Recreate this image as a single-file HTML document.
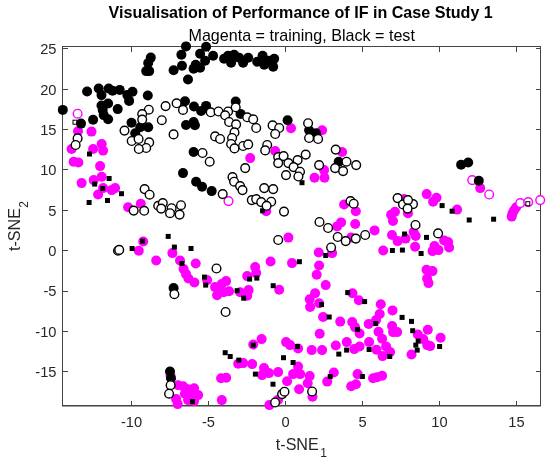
<!DOCTYPE html>
<html><head><meta charset="utf-8"><title>Visualisation of Performance of IF in Case Study 1</title>
<style>html,body{margin:0;padding:0;background:#fff}svg{display:block}</style></head>
<body><svg width="550" height="464" viewBox="0 0 550 464">
<rect width="550" height="464" fill="#fff"/>
<g stroke="#444" stroke-width="1" fill="none" shape-rendering="crispEdges">
<rect x="62.5" y="46.5" width="478.0" height="359.0"/>
<path d="M131.5 405.5v-5M131.5 46.5v5"/>
<path d="M208.5 405.5v-5M208.5 46.5v5"/>
<path d="M285.5 405.5v-5M285.5 46.5v5"/>
<path d="M362.5 405.5v-5M362.5 46.5v5"/>
<path d="M439.5 405.5v-5M439.5 46.5v5"/>
<path d="M516.5 405.5v-5M516.5 46.5v5"/>
<path d="M62.5 48.5h5M540.5 48.5h-5"/>
<path d="M62.5 89.5h5M540.5 89.5h-5"/>
<path d="M62.5 129.5h5M540.5 129.5h-5"/>
<path d="M62.5 169.5h5M540.5 169.5h-5"/>
<path d="M62.5 210.5h5M540.5 210.5h-5"/>
<path d="M62.5 250.5h5M540.5 250.5h-5"/>
<path d="M62.5 291.5h5M540.5 291.5h-5"/>
<path d="M62.5 331.5h5M540.5 331.5h-5"/>
<path d="M62.5 371.5h5M540.5 371.5h-5"/>
</g>
<path d="M62.0 405.9H541.0" stroke="#444" stroke-width="1.2" fill="none"/>
<g fill="#ff00ff"><circle cx="78" cy="131.2" r="5"/><circle cx="91.5" cy="131.6" r="5"/><circle cx="291" cy="128.2" r="5"/><circle cx="322.1" cy="130.2" r="5"/><circle cx="71.6" cy="149" r="5"/><circle cx="93.1" cy="149" r="5"/><circle cx="101.7" cy="144" r="5"/><circle cx="103.1" cy="150.6" r="5"/><circle cx="73.6" cy="161.7" r="5"/><circle cx="78.4" cy="162.5" r="5"/><circle cx="100.1" cy="166.1" r="5"/><circle cx="101.7" cy="176.7" r="5"/><circle cx="93.7" cy="180.1" r="5"/><circle cx="81.6" cy="183.1" r="5"/><circle cx="103.1" cy="188.1" r="5"/><circle cx="98.1" cy="194.5" r="5"/><circle cx="111.7" cy="190.1" r="5"/><circle cx="115.1" cy="188.1" r="5"/><circle cx="128.1" cy="207.2" r="5"/><circle cx="140.8" cy="203.7" r="5"/><circle cx="250.2" cy="158.1" r="5"/><circle cx="275.2" cy="151" r="5"/><circle cx="266.2" cy="211.2" r="5"/><circle cx="342.1" cy="152" r="5"/><circle cx="324.1" cy="170.1" r="5"/><circle cx="314.5" cy="177.7" r="5"/><circle cx="324.5" cy="177.7" r="5"/><circle cx="344.1" cy="204.5" r="5"/><circle cx="355.8" cy="211.2" r="5"/><circle cx="480.2" cy="188.1" r="5"/><circle cx="426.7" cy="194.1" r="5"/><circle cx="436.5" cy="197.7" r="5"/><circle cx="433.1" cy="201.7" r="5"/><circle cx="457.1" cy="209.6" r="5"/><circle cx="404" cy="199.1" r="5"/><circle cx="408" cy="213.2" r="5"/><circle cx="395" cy="211.8" r="5"/><circle cx="516.2" cy="207.2" r="5"/><circle cx="514.1" cy="210.2" r="5"/><circle cx="512.5" cy="213.2" r="5"/><circle cx="511.7" cy="216.6" r="5"/><circle cx="143.2" cy="241.5" r="5"/><circle cx="138.8" cy="250.7" r="5"/><circle cx="156.2" cy="260.5" r="5"/><circle cx="172.4" cy="253.1" r="5"/><circle cx="180" cy="260.5" r="5"/><circle cx="195.7" cy="263.5" r="5"/><circle cx="183.6" cy="269.1" r="5"/><circle cx="186" cy="274.1" r="5"/><circle cx="188.4" cy="278.5" r="5"/><circle cx="194.4" cy="282.5" r="5"/><circle cx="207.1" cy="280.1" r="5"/><circle cx="215.1" cy="287.1" r="5"/><circle cx="221.7" cy="284.1" r="5"/><circle cx="226.1" cy="281.1" r="5"/><circle cx="219.7" cy="290.1" r="5"/><circle cx="217.1" cy="295.2" r="5"/><circle cx="223.7" cy="292.2" r="5"/><circle cx="229.1" cy="291.2" r="5"/><circle cx="240.1" cy="292.2" r="5"/><circle cx="248.6" cy="290.1" r="5"/><circle cx="247.2" cy="295.8" r="5"/><circle cx="247.2" cy="276.1" r="5"/><circle cx="255.2" cy="267.1" r="5"/><circle cx="256.2" cy="273.1" r="5"/><circle cx="270.6" cy="261.5" r="5"/><circle cx="279.2" cy="289.7" r="5"/><circle cx="341.1" cy="222.4" r="5"/><circle cx="337.1" cy="226.4" r="5"/><circle cx="355.2" cy="224" r="5"/><circle cx="374.6" cy="230.4" r="5"/><circle cx="288.4" cy="237.6" r="5"/><circle cx="351.1" cy="237.6" r="5"/><circle cx="383.2" cy="250.5" r="5"/><circle cx="318.7" cy="252.5" r="5"/><circle cx="332.1" cy="253.1" r="5"/><circle cx="292" cy="263.1" r="5"/><circle cx="319.1" cy="265.5" r="5"/><circle cx="316.7" cy="274.7" r="5"/><circle cx="325.7" cy="285.1" r="5"/><circle cx="315.1" cy="293.2" r="5"/><circle cx="309.7" cy="299.2" r="5"/><circle cx="319.1" cy="303.2" r="5"/><circle cx="352.5" cy="293.2" r="5"/><circle cx="358.8" cy="300.2" r="5"/><circle cx="380.8" cy="304.2" r="5"/><circle cx="393" cy="221" r="5"/><circle cx="392" cy="235" r="5"/><circle cx="397.6" cy="241.1" r="5"/><circle cx="405.6" cy="238.6" r="5"/><circle cx="413.6" cy="232" r="5"/><circle cx="415.7" cy="236" r="5"/><circle cx="415.1" cy="246.7" r="5"/><circle cx="434.5" cy="246.1" r="5"/><circle cx="432.5" cy="251.1" r="5"/><circle cx="438.5" cy="250.1" r="5"/><circle cx="444.1" cy="240.4" r="5"/><circle cx="448.1" cy="242.1" r="5"/><circle cx="449.1" cy="247.5" r="5"/><circle cx="426.5" cy="269.7" r="5"/><circle cx="432.5" cy="271.1" r="5"/><circle cx="427.1" cy="278.5" r="5"/><circle cx="428.5" cy="283.1" r="5"/><circle cx="253.2" cy="344.5" r="5"/><circle cx="238.2" cy="363.7" r="5"/><circle cx="243.2" cy="363.1" r="5"/><circle cx="252.2" cy="364.1" r="5"/><circle cx="221.1" cy="378.2" r="5"/><circle cx="226.2" cy="377.8" r="5"/><circle cx="178.1" cy="385.2" r="5"/><circle cx="183.1" cy="386.2" r="5"/><circle cx="188.1" cy="389.2" r="5"/><circle cx="194.1" cy="388.2" r="5"/><circle cx="221.8" cy="400.1" r="5"/><circle cx="184.9" cy="393.7" r="5"/><circle cx="193.1" cy="394.1" r="5"/><circle cx="198.1" cy="395.1" r="5"/><circle cx="176.1" cy="399.1" r="5"/><circle cx="177.7" cy="404.1" r="5"/><circle cx="188.1" cy="400.1" r="5"/><circle cx="194.1" cy="401.1" r="5"/><circle cx="310.1" cy="307" r="5"/><circle cx="323.1" cy="317" r="5"/><circle cx="340.2" cy="321.6" r="5"/><circle cx="352.2" cy="322" r="5"/><circle cx="319.7" cy="333.7" r="5"/><circle cx="261.6" cy="339.1" r="5"/><circle cx="286.1" cy="342.1" r="5"/><circle cx="290.1" cy="345.1" r="5"/><circle cx="298.1" cy="348.5" r="5"/><circle cx="311.7" cy="350.1" r="5"/><circle cx="322.1" cy="350.1" r="5"/><circle cx="335.8" cy="345.5" r="5"/><circle cx="346.8" cy="342.1" r="5"/><circle cx="354.2" cy="349.1" r="5"/><circle cx="264" cy="368.1" r="5"/><circle cx="262" cy="375.1" r="5"/><circle cx="269" cy="373.1" r="5"/><circle cx="278.1" cy="372.1" r="5"/><circle cx="298.1" cy="366.5" r="5"/><circle cx="293.1" cy="374.1" r="5"/><circle cx="300.1" cy="374.1" r="5"/><circle cx="287.1" cy="381.2" r="5"/><circle cx="309.7" cy="376.1" r="5"/><circle cx="307.7" cy="383.2" r="5"/><circle cx="299.1" cy="389.2" r="5"/><circle cx="333.8" cy="372.5" r="5"/><circle cx="327.2" cy="381.6" r="5"/><circle cx="351.2" cy="386.2" r="5"/><circle cx="269.4" cy="405.1" r="5"/><circle cx="278.1" cy="399.7" r="5"/><circle cx="312.5" cy="396.7" r="5"/><circle cx="392.5" cy="310.4" r="5"/><circle cx="379.7" cy="314" r="5"/><circle cx="376.1" cy="320" r="5"/><circle cx="355" cy="327.1" r="5"/><circle cx="368.7" cy="324" r="5"/><circle cx="392.1" cy="326" r="5"/><circle cx="393.1" cy="332.1" r="5"/><circle cx="397.1" cy="332.1" r="5"/><circle cx="378.5" cy="331.7" r="5"/><circle cx="359.6" cy="333.5" r="5"/><circle cx="427.8" cy="329.7" r="5"/><circle cx="417.8" cy="334.5" r="5"/><circle cx="423.2" cy="339.1" r="5"/><circle cx="440.6" cy="337.7" r="5"/><circle cx="427.2" cy="345.1" r="5"/><circle cx="430.2" cy="346.1" r="5"/><circle cx="382.1" cy="338.7" r="5"/><circle cx="369.1" cy="342.1" r="5"/><circle cx="386.1" cy="346.5" r="5"/><circle cx="359.6" cy="346.5" r="5"/><circle cx="376.5" cy="349.7" r="5"/><circle cx="390.1" cy="352.1" r="5"/><circle cx="382.5" cy="356.1" r="5"/><circle cx="411.5" cy="354.5" r="5"/><circle cx="357.6" cy="374.1" r="5"/><circle cx="373.1" cy="378.2" r="5"/><circle cx="377.1" cy="377.2" r="5"/><circle cx="382.1" cy="375.7" r="5"/><circle cx="356" cy="384.2" r="5"/><circle cx="170.5" cy="375.5" r="5"/><circle cx="391.1" cy="214.7" r="5"/></g>
<g fill="#fff" stroke="#ff00ff" stroke-width="1.4"><circle cx="77.6" cy="113.7" r="4.35"/><circle cx="228.5" cy="201.1" r="4.35"/><circle cx="472.2" cy="180.1" r="4.35"/><circle cx="489.2" cy="194.5" r="4.35"/><circle cx="520.2" cy="203.1" r="4.35"/><circle cx="528.2" cy="202.1" r="4.35"/><circle cx="540.2" cy="200.1" r="4.35"/></g>
<g fill="#000"><rect x="87" y="151.5" width="5" height="5"/><rect x="106.6" y="176" width="5" height="5"/><rect x="92.2" y="181.6" width="5" height="5"/><rect x="100.2" y="186" width="5" height="5"/><rect x="119" y="191.2" width="5" height="5"/><rect x="105" y="198" width="5" height="5"/><rect x="86.6" y="200" width="5" height="5"/><rect x="260.1" y="208.3" width="5" height="5"/><rect x="299.5" y="180.2" width="5" height="5"/><rect x="439.6" y="203.1" width="5" height="5"/><rect x="449.6" y="208.7" width="5" height="5"/><rect x="491.1" y="216.7" width="5" height="5"/><rect x="129.6" y="246" width="5" height="5"/><rect x="140.1" y="238.6" width="5" height="5"/><rect x="165.7" y="233.9" width="5" height="5"/><rect x="171.9" y="244.6" width="5" height="5"/><rect x="188.5" y="246" width="5" height="5"/><rect x="179.5" y="261" width="5" height="5"/><rect x="202" y="274.6" width="5" height="5"/><rect x="203.2" y="282.6" width="5" height="5"/><rect x="234.6" y="288.2" width="5" height="5"/><rect x="241.2" y="295.7" width="5" height="5"/><rect x="247.1" y="276.6" width="5" height="5"/><rect x="254.3" y="275.6" width="5" height="5"/><rect x="270.7" y="283.2" width="5" height="5"/><rect x="296.9" y="259.2" width="5" height="5"/><rect x="323.2" y="253" width="5" height="5"/><rect x="345.2" y="290.1" width="5" height="5"/><rect x="362.1" y="299.1" width="5" height="5"/><rect x="319" y="302.1" width="5" height="5"/><rect x="466.7" y="217.5" width="5" height="5"/><rect x="402.1" y="231.5" width="5" height="5"/><rect x="424" y="234.9" width="5" height="5"/><rect x="389.9" y="248" width="5" height="5"/><rect x="399.9" y="247.6" width="5" height="5"/><rect x="418.6" y="251" width="5" height="5"/><rect x="222.7" y="350.2" width="5" height="5"/><rect x="227.7" y="354" width="5" height="5"/><rect x="236.3" y="357.6" width="5" height="5"/><rect x="250.7" y="342.6" width="5" height="5"/><rect x="190" y="399.2" width="5" height="5"/><rect x="326.7" y="314.5" width="5" height="5"/><rect x="295" y="344" width="5" height="5"/><rect x="281" y="355.2" width="5" height="5"/><rect x="290.6" y="360" width="5" height="5"/><rect x="344.1" y="347.6" width="5" height="5"/><rect x="336.3" y="351.6" width="5" height="5"/><rect x="252.9" y="371.6" width="5" height="5"/><rect x="270.5" y="381.7" width="5" height="5"/><rect x="327.7" y="374" width="5" height="5"/><rect x="399.6" y="314.9" width="5" height="5"/><rect x="409" y="318.9" width="5" height="5"/><rect x="373.2" y="321.1" width="5" height="5"/><rect x="355.1" y="327" width="5" height="5"/><rect x="410.2" y="328.2" width="5" height="5"/><rect x="415.7" y="338.6" width="5" height="5"/><rect x="413.3" y="342.6" width="5" height="5"/><rect x="414.7" y="347.6" width="5" height="5"/><rect x="437.1" y="344" width="5" height="5"/><rect x="366.6" y="347" width="5" height="5"/><rect x="387.2" y="354" width="5" height="5"/><rect x="359.9" y="374" width="5" height="5"/></g>
<g fill="#fff" stroke="#000" stroke-width="1"><rect x="73" y="120.2" width="4" height="4"/><rect x="525.8" y="201.7" width="4" height="4"/></g>
<g fill="#000"><circle cx="62.8" cy="109.9" r="5"/><circle cx="87.1" cy="91.5" r="5"/><circle cx="98.7" cy="88.5" r="5"/><circle cx="101.5" cy="95.1" r="5"/><circle cx="108.7" cy="88.5" r="5"/><circle cx="112.5" cy="90.7" r="5"/><circle cx="119.7" cy="89.9" r="5"/><circle cx="127.3" cy="95.1" r="5"/><circle cx="132.5" cy="91.7" r="5"/><circle cx="129.1" cy="100.9" r="5"/><circle cx="147.8" cy="95.5" r="5"/><circle cx="150.8" cy="57.6" r="5"/><circle cx="148.2" cy="63" r="5"/><circle cx="146.2" cy="71.1" r="5"/><circle cx="149.2" cy="71.1" r="5"/><circle cx="108.1" cy="103.5" r="5"/><circle cx="101.5" cy="105.5" r="5"/><circle cx="102.7" cy="110.1" r="5"/><circle cx="117.7" cy="109.1" r="5"/><circle cx="103.7" cy="115.1" r="5"/><circle cx="108.1" cy="119.2" r="5"/><circle cx="93.1" cy="119.8" r="5"/><circle cx="81" cy="123.6" r="5"/><circle cx="131.5" cy="122.8" r="5"/><circle cx="140.2" cy="127.2" r="5"/><circle cx="148.2" cy="127.2" r="5"/><circle cx="135.2" cy="133.2" r="5"/><circle cx="186" cy="46.4" r="5"/><circle cx="206.1" cy="46.8" r="5"/><circle cx="181.4" cy="54.8" r="5"/><circle cx="200.1" cy="53.8" r="5"/><circle cx="213.1" cy="55.8" r="5"/><circle cx="205.1" cy="60.8" r="5"/><circle cx="182" cy="65.8" r="5"/><circle cx="173.6" cy="70.3" r="5"/><circle cx="195.7" cy="64.8" r="5"/><circle cx="200.1" cy="67.8" r="5"/><circle cx="193.6" cy="68.8" r="5"/><circle cx="188" cy="79.5" r="5"/><circle cx="224.1" cy="58.8" r="5"/><circle cx="228.1" cy="55.8" r="5"/><circle cx="234.1" cy="54.8" r="5"/><circle cx="231.1" cy="62.8" r="5"/><circle cx="239.1" cy="57.8" r="5"/><circle cx="243.1" cy="62.8" r="5"/><circle cx="248.2" cy="57.8" r="5"/><circle cx="257.2" cy="61.8" r="5"/><circle cx="262.6" cy="55.8" r="5"/><circle cx="264.2" cy="64.8" r="5"/><circle cx="274.2" cy="58.8" r="5"/><circle cx="273.2" cy="66.8" r="5"/><circle cx="268.2" cy="60.8" r="5"/><circle cx="185" cy="101.3" r="5"/><circle cx="194" cy="106.5" r="5"/><circle cx="206.1" cy="105.9" r="5"/><circle cx="201.1" cy="110.9" r="5"/><circle cx="235.7" cy="101.5" r="5"/><circle cx="240.5" cy="113.9" r="5"/><circle cx="186" cy="125" r="5"/><circle cx="193.6" cy="122" r="5"/><circle cx="287.6" cy="120.2" r="5"/><circle cx="309.1" cy="130.2" r="5"/><circle cx="316.1" cy="133.2" r="5"/><circle cx="193.6" cy="152" r="5"/><circle cx="183" cy="173.1" r="5"/><circle cx="196.1" cy="181.7" r="5"/><circle cx="202.1" cy="186.7" r="5"/><circle cx="211.7" cy="191.1" r="5"/><circle cx="338.7" cy="161.7" r="5"/><circle cx="461.1" cy="164.7" r="5"/><circle cx="468.2" cy="162.5" r="5"/><circle cx="478.8" cy="180.7" r="5"/><circle cx="173.6" cy="288.1" r="5"/><circle cx="170" cy="371.5" r="5"/><circle cx="171" cy="378.2" r="5"/><circle cx="194.9" cy="125.2" r="5"/></g>
<g fill="#fff" stroke="#000" stroke-width="1.4"><circle cx="148.8" cy="109.7" r="4.35"/><circle cx="142.2" cy="114.1" r="4.35"/><circle cx="142.2" cy="119.6" r="4.35"/><circle cx="165.6" cy="106.1" r="4.35"/><circle cx="161.8" cy="120.2" r="4.35"/><circle cx="124.5" cy="130.6" r="4.35"/><circle cx="176.6" cy="103.3" r="4.35"/><circle cx="183" cy="109.9" r="4.35"/><circle cx="210.7" cy="112.3" r="4.35"/><circle cx="218.5" cy="111.5" r="4.35"/><circle cx="228.1" cy="111.5" r="4.35"/><circle cx="225.1" cy="115.3" r="4.35"/><circle cx="235.7" cy="107.3" r="4.35"/><circle cx="229.1" cy="122" r="4.35"/><circle cx="236.1" cy="124.4" r="4.35"/><circle cx="234.5" cy="132.4" r="4.35"/><circle cx="247.2" cy="117.3" r="4.35"/><circle cx="253.2" cy="119.3" r="4.35"/><circle cx="256.2" cy="128" r="4.35"/><circle cx="272.6" cy="125.4" r="4.35"/><circle cx="279.2" cy="128" r="4.35"/><circle cx="275.2" cy="134" r="4.35"/><circle cx="308.1" cy="123.2" r="4.35"/><circle cx="77.6" cy="138.4" r="4.35"/><circle cx="75.6" cy="145" r="4.35"/><circle cx="131.7" cy="141" r="4.35"/><circle cx="138.6" cy="139" r="4.35"/><circle cx="149.2" cy="142.4" r="4.35"/><circle cx="146.2" cy="148" r="4.35"/><circle cx="138.8" cy="149" r="4.35"/><circle cx="144.6" cy="189.1" r="4.35"/><circle cx="149.6" cy="194.7" r="4.35"/><circle cx="133.7" cy="210.6" r="4.35"/><circle cx="144.2" cy="210.8" r="4.35"/><circle cx="158.2" cy="205.8" r="4.35"/><circle cx="162.8" cy="203.1" r="4.35"/><circle cx="161.2" cy="208.6" r="4.35"/><circle cx="173.6" cy="134.4" r="4.35"/><circle cx="215.1" cy="136.4" r="4.35"/><circle cx="220.1" cy="139" r="4.35"/><circle cx="232.1" cy="138" r="4.35"/><circle cx="231.1" cy="144" r="4.35"/><circle cx="234.5" cy="148.4" r="4.35"/><circle cx="243.1" cy="146" r="4.35"/><circle cx="248.2" cy="144.4" r="4.35"/><circle cx="267.2" cy="145" r="4.35"/><circle cx="265.2" cy="150.4" r="4.35"/><circle cx="278.2" cy="157.1" r="4.35"/><circle cx="278.2" cy="163.1" r="4.35"/><circle cx="202.5" cy="153" r="4.35"/><circle cx="209.7" cy="161.7" r="4.35"/><circle cx="245.2" cy="168.1" r="4.35"/><circle cx="232.5" cy="177.1" r="4.35"/><circle cx="234.1" cy="181.7" r="4.35"/><circle cx="240.1" cy="186.1" r="4.35"/><circle cx="242.5" cy="190.1" r="4.35"/><circle cx="264.2" cy="188.1" r="4.35"/><circle cx="273.2" cy="189.1" r="4.35"/><circle cx="222.7" cy="194.1" r="4.35"/><circle cx="251.8" cy="200.1" r="4.35"/><circle cx="256.2" cy="199.1" r="4.35"/><circle cx="261.2" cy="202.1" r="4.35"/><circle cx="271.2" cy="201.7" r="4.35"/><circle cx="266.6" cy="205.8" r="4.35"/><circle cx="181" cy="205.2" r="4.35"/><circle cx="171.6" cy="208.2" r="4.35"/><circle cx="179.6" cy="214.6" r="4.35"/><circle cx="170" cy="213.2" r="4.35"/><circle cx="309.1" cy="138" r="4.35"/><circle cx="318.1" cy="139" r="4.35"/><circle cx="305.7" cy="154.6" r="4.35"/><circle cx="283.6" cy="156.1" r="4.35"/><circle cx="288.4" cy="163.1" r="4.35"/><circle cx="297.6" cy="160.1" r="4.35"/><circle cx="293.6" cy="167.1" r="4.35"/><circle cx="300" cy="171.7" r="4.35"/><circle cx="286" cy="175.1" r="4.35"/><circle cx="298.4" cy="176.5" r="4.35"/><circle cx="319.1" cy="165.1" r="4.35"/><circle cx="335.7" cy="149.6" r="4.35"/><circle cx="346.5" cy="161.7" r="4.35"/><circle cx="356.2" cy="165.1" r="4.35"/><circle cx="335.1" cy="168.1" r="4.35"/><circle cx="343.1" cy="171.1" r="4.35"/><circle cx="350.5" cy="201.1" r="4.35"/><circle cx="353.7" cy="203.7" r="4.35"/><circle cx="284" cy="211.6" r="4.35"/><circle cx="397.6" cy="198.1" r="4.35"/><circle cx="403" cy="204.5" r="4.35"/><circle cx="413" cy="204.1" r="4.35"/><circle cx="408" cy="200.1" r="4.35"/><circle cx="407.6" cy="208.6" r="4.35"/><circle cx="118" cy="250.7" r="4.35"/><circle cx="119.2" cy="249.9" r="4.35"/><circle cx="216.5" cy="268.5" r="4.35"/><circle cx="278.2" cy="240" r="4.35"/><circle cx="174.4" cy="294.2" r="4.35"/><circle cx="319.5" cy="222" r="4.35"/><circle cx="328.1" cy="228" r="4.35"/><circle cx="337.7" cy="237" r="4.35"/><circle cx="345.7" cy="241.1" r="4.35"/><circle cx="355.8" cy="238.6" r="4.35"/><circle cx="365.2" cy="235" r="4.35"/><circle cx="331.1" cy="247.5" r="4.35"/><circle cx="415.5" cy="225" r="4.35"/><circle cx="438.1" cy="233.4" r="4.35"/><circle cx="225.6" cy="312" r="4.35"/><circle cx="170.6" cy="385.2" r="4.35"/><circle cx="169.1" cy="393.7" r="4.35"/><circle cx="282.1" cy="394.1" r="4.35"/><circle cx="284.5" cy="391.7" r="4.35"/><circle cx="275.1" cy="402.5" r="4.35"/><circle cx="312.1" cy="391.5" r="4.35"/></g>
<g font-family="'Liberation Sans',Arial,sans-serif" fill="#262626" font-size="14.67px">
<text x="131.5" y="427" text-anchor="middle">-10</text>
<text x="208.5" y="427" text-anchor="middle">-5</text>
<text x="285.5" y="427" text-anchor="middle">0</text>
<text x="362.5" y="427" text-anchor="middle">5</text>
<text x="439.5" y="427" text-anchor="middle">10</text>
<text x="516.5" y="427" text-anchor="middle">15</text>
<text x="56.5" y="54.1" text-anchor="end">25</text>
<text x="56.5" y="94.5" text-anchor="end">20</text>
<text x="56.5" y="134.9" text-anchor="end">15</text>
<text x="56.5" y="175.2" text-anchor="end">10</text>
<text x="56.5" y="215.6" text-anchor="end">5</text>
<text x="56.5" y="256" text-anchor="end">0</text>
<text x="56.5" y="296.4" text-anchor="end">-5</text>
<text x="56.5" y="336.8" text-anchor="end">-10</text>
<text x="56.5" y="377.1" text-anchor="end">-15</text>
</g>
<g font-family="'Liberation Sans',Arial,sans-serif" font-size="16.1px">
<text x="300.7" y="18" text-anchor="middle" font-weight="bold" fill="#000">Visualisation of Performance of IF in Case Study 1</text>
<text x="301.7" y="40.7" text-anchor="middle" fill="#000">Magenta = training, Black = test</text>
<text x="275.8" y="449.5" fill="#262626">t-SNE<tspan font-size="12px" dx="1.5" dy="7.5">1</tspan></text>
<text transform="translate(20,251) rotate(-90)" fill="#262626">t-SNE<tspan font-size="12px" dx="0.3" dy="8">2</tspan></text>
</g>
</svg></body></html>
